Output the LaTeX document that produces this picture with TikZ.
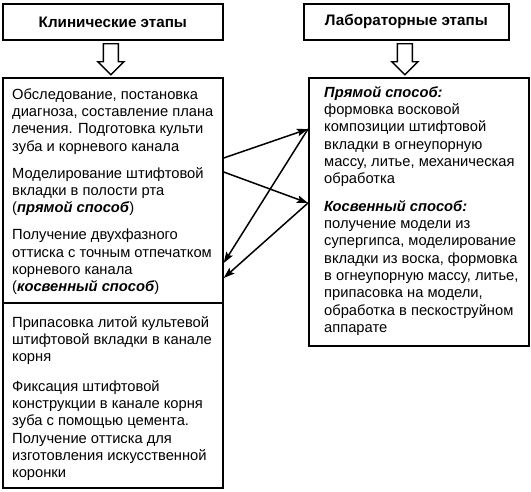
\documentclass[tikz,border=0pt]{standalone}
\usepackage{fontspec}
\setmainfont{Liberation Sans}
\usetikzlibrary{calc,arrows.meta}
\begin{document}
\begin{tikzpicture}[x=1pt,y=1pt,
  frame/.style={draw=black,line width=1.7pt,inner sep=0pt},
  txt/.style={anchor=north west,inner sep=0pt,align=left,font=\fontsize{14.7}{17.3}\selectfont},
  head/.style={frame,anchor=north west,font=\fontsize{15.2}{17}\selectfont\bfseries},
  hollow/.style={draw=black,line width=1.4pt,fill=white,line join=miter},
  link/.style={draw=black,line width=1.5pt,-{Stealth[length=11pt,width=7.5pt,inset=2pt]}}]
\useasboundingbox (0,0) rectangle (531,-491);
% headers
\node[head,minimum width=220,minimum height=36] (HL) at (2,-3) {Клинические этапы};
\node[head,minimum width=205,minimum height=36] (HR) at (303,-3) {Лабораторные этапы};
% main boxes
\node[frame,anchor=north west,minimum width=220,minimum height=410] (LB) at (2,-77) {};
\node[frame,anchor=north west,minimum width=220,minimum height=268] (RB) at (308,-77) {};
\draw[line width=1.7pt] ($(LB.north west)+(0,-226)$) -- ($(LB.north east)+(0,-226)$);
% hollow arrows
\draw[hollow] ($(HL.south)+(-9.5,-3)$) -- ++(0,-18) -- ++(-5.5,0) -- ++(13,-13) -- ++(13,13) -- ++(-5.5,0) -- ++(0,18) -- cycle;
\draw[hollow] ($(HR.south)+(-9,-3)$) -- ++(0,-18) -- ++(-5.5,0) -- ++(13,-13) -- ++(13,13) -- ++(-5.5,0) -- ++(0,18) -- cycle;
% left texts
\node[txt] (L1) at (12,-86.9) {\strut Обследование, постановка\\диагноза, составление плана\\лечения. Подготовка культи\\зуба и корневого канала};
\node[txt] (L2) at (12,-165.9) {\strut Моделирование штифтовой\\вкладки в полости рта\\(\textbf{\textit{прямой способ}})};
\node[txt] (L3) at (12,-227.5) {\strut Получение двухфазного\\оттиска с точным отпечатком\\корневого канала\\(\textbf{\textit{косвенный способ}})};
\node[txt] (L4) at (12,-314.9) {\strut Припасовка литой культевой\\штифтовой вкладки в канале\\корня};
\node[txt] (L5) at (12,-378.9) {\strut Фиксация штифтовой\\конструкции в канале корня\\зуба с помощью цемента.\\Получение оттиска для\\изготовления искусственной\\коронки};
% right texts
\node[txt] (R1) at (324,-84.9) {\strut\textbf{\textit{Прямой способ:}}\\формовка восковой\\композиции штифтовой\\вкладки в огнеупорную\\массу, литье, механическая\\обработка};
\node[txt] (R2) at (324,-198.9) {\strut\textbf{\textit{Косвенный способ:}}\\получение модели из\\супергипса, моделирование\\вкладки из воска, формовка\\в огнеупорную массу, литье,\\припасовка на модели,\\обработка в пескоструйном\\аппарате};
% connector ends
\coordinate (l1) at ($(LB.north east)+(0,-81)$);
\coordinate (l2) at ($(LB.north east)+(0,-95)$);
\coordinate (l3) at ($(LB.north east)+(0,-186)$);
\coordinate (l4) at ($(LB.north east)+(0,-201)$);
\coordinate (r1) at ($(RB.north west)+(0,-52)$);
\coordinate (r2) at ($(RB.north west)+(0,-126)$);
\draw[link] (l1) -- (r1);
\draw[link] (l2) -- (r2);
\draw[link] (r1) -- (l3);
\draw[link] (r2) -- (l4);
\end{tikzpicture}
\end{document}
